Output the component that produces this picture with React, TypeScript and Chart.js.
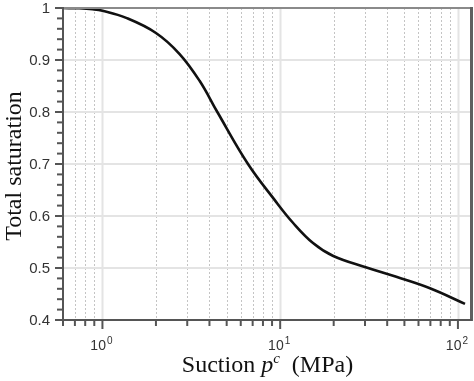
import React, { useEffect, useRef } from 'react';
import { Chart, registerables } from 'chart.js';

Chart.register(...registerables);

// Curve data
const suction = [0.6, 0.74, 0.88, 1.0, 1.36, 2.0, 2.71, 3.52, 4.43, 6.59, 9.3, 11.8, 15.3, 19.9, 30.6, 45, 69.6, 109.6];
const saturation = [1.0, 0.9994, 0.9977, 0.9948, 0.981, 0.952, 0.912, 0.86, 0.8, 0.7, 0.631, 0.587, 0.548, 0.523, 0.501, 0.483, 0.461, 0.431];

// Axis settings
const xMin = 0.6;
const xMax = 120;
const yMin = 0.4;
const yMax = 1;
const xDecades = [1, 10, 100];
const xDecadeExp = ['0', '1', '2'];
const yMajorTicks = [0.4, 0.5, 0.6, 0.7, 0.8, 0.9, 1.0];
const yMajorLabels = ['0.4', '0.5', '0.6', '0.7', '0.8', '0.9', '1'];

const AXIS_COLOR = '#555';
const GRID_COLOR = '#e4e4e4';
const DOT_COLOR = '#c4c4c4';
const LABEL_COLOR = '#333';
const TITLE_COLOR = '#111';

function xTickValues(): number[] {
  const out: number[] = [];
  for (let e = -1; e <= 2; e++) {
    for (let m = 1; m <= 9; m++) {
      const v = m * Math.pow(10, e);
      if (v >= xMin - 1e-9 && v <= xMax + 1e-9) out.push(v);
    }
  }
  return out;
}

function yTickValues(): number[] {
  const out: number[] = [];
  for (let i = 0; i <= 30; i++) out.push(Math.round((yMin + i * 0.02) * 100) / 100);
  return out;
}

const isMajorY = (v: number) => Math.abs(v * 10 - Math.round(v * 10)) < 1e-6;
const isDecade = (v: number) => Math.abs(Math.log10(v) - Math.round(Math.log10(v))) < 1e-9;

const decoPlugin = {
  id: 'deco',
  beforeDatasetsDraw(chart: any) {
    const { ctx, chartArea: a, scales } = chart;
    const x = scales.x;
    const y = scales.y;
    ctx.save();
    for (const v of xTickValues()) {
      const px = Math.round(x.getPixelForValue(v)) + 0.5;
      if (px <= a.left + 1 || px >= a.right - 1) continue;
      ctx.beginPath();
      if (isDecade(v)) {
        ctx.setLineDash([]);
        ctx.strokeStyle = GRID_COLOR;
        ctx.lineWidth = 2;
      } else {
        ctx.setLineDash([2, 2]);
        ctx.strokeStyle = DOT_COLOR;
        ctx.lineWidth = 1;
      }
      ctx.moveTo(px, a.top);
      ctx.lineTo(px, a.bottom);
      ctx.stroke();
    }
    ctx.setLineDash([]);
    for (const v of yMajorTicks) {
      const py = y.getPixelForValue(v);
      if (py <= a.top + 1 || py >= a.bottom - 1) continue;
      ctx.beginPath();
      ctx.strokeStyle = GRID_COLOR;
      ctx.lineWidth = 2;
      ctx.moveTo(a.left, py);
      ctx.lineTo(a.right, py);
      ctx.stroke();
    }
    ctx.restore();
  },
  afterDatasetsDraw(chart: any) {
    const { ctx, chartArea: a, scales } = chart;
    const x = scales.x;
    const y = scales.y;
    ctx.save();
    ctx.setLineDash([]);
    // top border
    ctx.strokeStyle = '#8a8a8a';
    ctx.lineWidth = 2;
    ctx.beginPath();
    ctx.moveTo(a.left, a.top);
    ctx.lineTo(a.right, a.top);
    ctx.stroke();
    // right border
    ctx.strokeStyle = '#606060';
    ctx.lineWidth = 3;
    ctx.beginPath();
    ctx.moveTo(a.right - 0.5, a.top - 1);
    ctx.lineTo(a.right - 0.5, a.bottom + 1);
    ctx.stroke();
    // left & bottom axes
    ctx.strokeStyle = AXIS_COLOR;
    ctx.lineWidth = 2;
    ctx.beginPath();
    ctx.moveTo(a.left, a.top - 1);
    ctx.lineTo(a.left, a.bottom + 1);
    ctx.moveTo(a.left - 1, a.bottom);
    ctx.lineTo(a.right, a.bottom);
    ctx.stroke();
    // y ticks
    for (const v of yTickValues()) {
      const py = y.getPixelForValue(v);
      const len = isMajorY(v) ? 8 : 6;
      ctx.beginPath();
      ctx.moveTo(a.left - len, py);
      ctx.lineTo(a.left, py);
      ctx.stroke();
    }
    // x ticks
    for (const v of xTickValues()) {
      const px = x.getPixelForValue(v);
      if (px >= a.right - 2) continue;
      const len = isDecade(v) ? 9 : 6;
      ctx.beginPath();
      ctx.moveTo(px, a.bottom);
      ctx.lineTo(px, a.bottom + len);
      ctx.stroke();
    }
    // y tick labels
    ctx.fillStyle = LABEL_COLOR;
    ctx.font = '15px "Liberation Sans", Arial, sans-serif';
    ctx.textAlign = 'right';
    ctx.textBaseline = 'middle';
    yMajorTicks.forEach((v, i) => {
      ctx.fillText(yMajorLabels[i], a.left - 13, y.getPixelForValue(v) + 1);
    });
    // x tick labels (10 with superscript exponent)
    ctx.textBaseline = 'alphabetic';
    xDecades.forEach((v, i) => {
      const px = x.getPixelForValue(v);
      ctx.font = '14px "Liberation Sans", Arial, sans-serif';
      const base = '10';
      const wb = ctx.measureText(base).width;
      ctx.font = '10px "Liberation Sans", Arial, sans-serif';
      const we = ctx.measureText(xDecadeExp[i]).width;
      const total = wb + 1 + we;
      const start = px - total / 2 - 1;
      ctx.font = '14px "Liberation Sans", Arial, sans-serif';
      ctx.textAlign = 'left';
      ctx.fillText(base, start, a.bottom + 30);
      ctx.font = '10px "Liberation Sans", Arial, sans-serif';
      ctx.fillText(xDecadeExp[i], start + wb + 1, a.bottom + 24);
    });
    // x title: Suction p^c (MPa)
    ctx.fillStyle = TITLE_COLOR;
    const serif = '"Liberation Serif", "Times New Roman", serif';
    const parts = [
      { t: 'Suction ', f: `24px ${serif}`, dy: 0 },
      { t: 'p', f: `italic 24px ${serif}`, dy: 0 },
      { t: 'c', f: `italic 15px ${serif}`, dy: -9 },
      { t: '  (MPa)', f: `24px ${serif}`, dy: 0 },
    ];
    let tw = 0;
    for (const p of parts) {
      ctx.font = p.f;
      tw += ctx.measureText(p.t).width;
    }
    let cx = (a.left + a.right) / 2 - tw / 2;
    const baseY = a.bottom + 52;
    ctx.textAlign = 'left';
    for (const p of parts) {
      ctx.font = p.f;
      ctx.fillText(p.t, cx, baseY + p.dy);
      cx += ctx.measureText(p.t).width;
    }
    // y title
    ctx.save();
    ctx.translate(21, (a.top + a.bottom) / 2 + 2);
    ctx.rotate(-Math.PI / 2);
    ctx.font = `24px ${serif}`;
    ctx.textAlign = 'center';
    ctx.textBaseline = 'alphabetic';
    ctx.fillText('Total saturation', 0, 0);
    ctx.restore();
    ctx.restore();
  },
};

export default function App() {
  const ref = useRef<HTMLCanvasElement | null>(null);
  useEffect(() => {
    if (!ref.current) return;
    const data = suction.map((s, i) => ({ x: s, y: saturation[i] }));
    const chart = new Chart(ref.current, {
      type: 'line',
      data: {
        datasets: [
          {
            data,
            borderColor: '#111',
            borderWidth: 2.6,
            pointRadius: 0,
            fill: false,
            tension: 0.4,
          },
        ],
      },
      options: {
        responsive: false,
        animation: false,
        events: [],
        layout: { padding: { top: 8, right: 2, left: 0, bottom: 0 } },
        plugins: { legend: { display: false }, tooltip: { enabled: false }, title: { display: false } },
        scales: {
          x: {
            type: 'logarithmic',
            min: xMin,
            max: xMax,
            grid: { display: false },
            border: { display: false },
            ticks: { display: false },
            afterFit: (s: any) => {
              s.height = 61;
            },
          },
          y: {
            type: 'linear',
            min: yMin,
            max: yMax,
            grid: { display: false },
            border: { display: false },
            ticks: { display: false },
            afterFit: (s: any) => {
              s.width = 63;
            },
          },
        },
      },
      plugins: [decoPlugin],
    } as any);
    return () => chart.destroy();
  }, []);
  return (
    <div style={{ position: 'absolute', left: 0, top: 0, width: 474, height: 381, background: '#fff' }}>
      <canvas ref={ref} width={474} height={381} />
    </div>
  );
}
